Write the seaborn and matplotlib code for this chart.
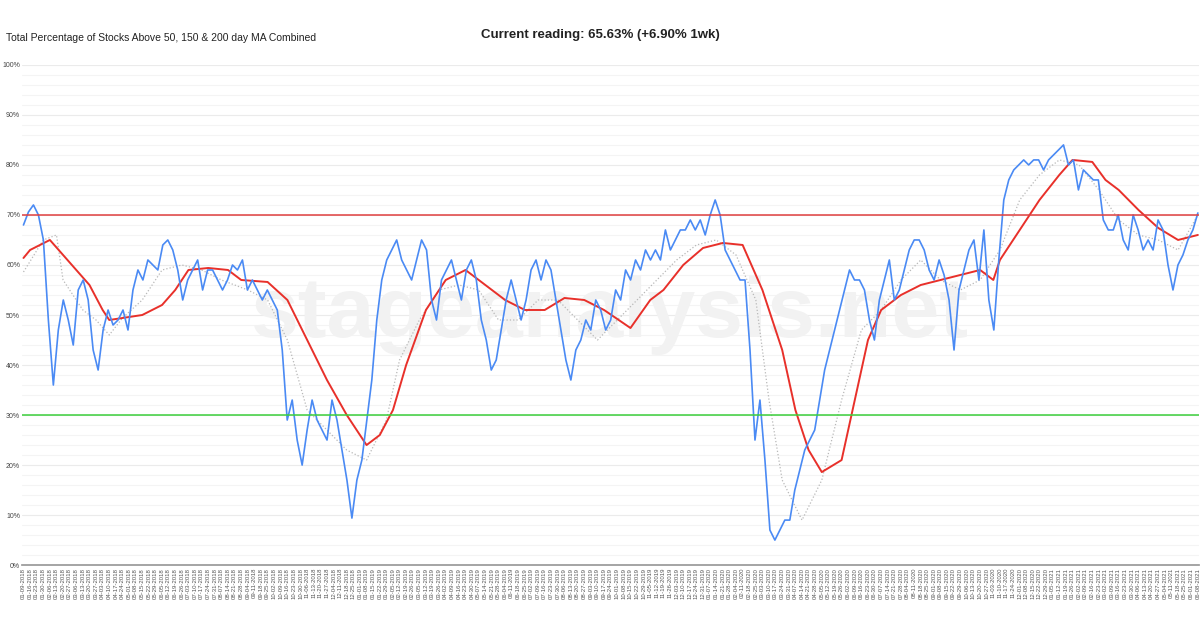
import numpy as np
import pandas as pd
import matplotlib
matplotlib.use("Agg")
import matplotlib.pyplot as plt
import seaborn as sns

blue_vals = [68,70.6,72,70,65,49,36,47,53,49,44,55,57,53,43,39,47,51,48,49,51,47,55,59,57,61,60,59,64,65,63,59,53,57,59,61,55,59,59,57,55,57,60,59,61,55,57,55,53,55,53,51,43,29,33,25,20,27,33,29,27,25,33,29,23,17,9.4,17,21,29,37,49,57,61,63,65,61,59,57,61,65,63,53,49,57,59,61,57,53,59,61,57,49,45,39,41,47,53,57,53,49,53,59,61,57,61,59,53,47,41,37,43,45,49,47,53,51,47,49,55,53,59,57,61,59,63,61,63,61,67,63,65,67,67,69,67,69,66,70,73,70,63,61,59,57,57,43,25,33,21,7,5,7,9,9,15,19,23,25,27,33,39,43,47,51,55,59,57,57,55,49,45,53,57,61,53,55,59,63,65,65,63,59,57,61,58,53,43,55,59,63,65,57,67,53,47,61,73,77,79,80,81,80,81,81,79,81,82,83,84,80,81,75,79,78,77,77,69,67,67,70,65,63,70,67,63,65,63,69,67,60,55,60,62,65,67,70.4]
red_weeks = [0,1,4,6,8,10,12,13,15,18,21,23,25,28,31,33,37,40,43,46,49,52,54,56,58,61,64,67,70,73,76,79,82,85,88,92,95,97,100,103,106,109,112,115,117,119,121,124,126,128,130,133,136,139,142,145,147,148,151,154,157,159,162,164,166,169,172,175,178]
red_vals = [61.4,63,65,62,59,56,51,49,49.4,50,52,55,59,59.4,59,57,56.6,53,45,37,30,24,26,31,40,51,57,59,56,53,51,51,53.4,53,51,47.4,53,55,60,63.4,64.4,64,55,43,31,23,18.6,21,33,45,51,54,56,57,58,59,57,61,67,73,78,81,80.6,77,75,71,67.4,65,66]
gray_weeks = [0,3,5,6,9,11,13,15,18,21,24,27,30,34,37,40,43,46,49,52,55,57,60,63,66,69,72,75,78,81,84,87,90,93,96,99,102,105,108,111,113,115,118,121,124,127,130,133,136,139,142,145,148,151,154,157,160,163,166,169,172,175,178]
gray_vals = [58.6,65,66,57,51,49,46,49.4,53,59,60,59,57,55,53,45,31,27,23,21,29,41,49,55,56,55,49,49,53,53,49,45,49,53,57,61,64,65,62,53,33,17,9,17,33,47,51,57,61,57,55,57,63,73,78,81,80,75,69,66,65,63,70]

start = pd.Timestamp("2018-01-09")
tick_dates = pd.date_range(start, periods=179, freq="7D")
tick_labels = [d.strftime("%m-%d-%Y") for d in tick_dates]

def to_dates(weeks):
    return [start + pd.Timedelta(days=7 * w) for w in weeks]

blue_weeks = np.linspace(0, 178, len(blue_vals))
df_b = pd.DataFrame({"d": to_dates(blue_weeks), "v": blue_vals})
df_r = pd.DataFrame({"d": to_dates(red_weeks), "v": red_vals})
df_g = pd.DataFrame({"d": to_dates(gray_weeks), "v": gray_vals})

sns.set_theme(style="white")
plt.rcParams['font.family'] = ['Liberation Sans', 'DejaVu Sans']
fig = plt.figure(figsize=(12, 6.3), dpi=100)
ax = fig.add_axes([0.018, 0.103, 0.981, 0.794])

for y in np.arange(0, 101, 2):
    ax.axhline(y, color="#ebebeb" if y % 10 == 0 else "#f4f4f4", lw=0.8, zorder=0)

ax.text(0.5, 0.5, "stageanalysis.net", transform=ax.transAxes, fontsize=62,
        fontweight="bold", color="#f2f2f2", ha="center", va="center", zorder=0.5)

sns.lineplot(data=df_g, x="d", y="v", ax=ax, color="#b8b8b8", lw=0.9, linestyle=":")
sns.lineplot(data=df_r, x="d", y="v", ax=ax, color="#e8302a", lw=1.4)
sns.lineplot(data=df_b, x="d", y="v", ax=ax, color="#4a8af4", lw=1.2)
ax.axhline(70, color="#e04040", lw=1.1)
ax.axhline(30, color="#3ccf3c", lw=1.1)

ax.set_ylim(0, 100)
ax.set_xlim(start - pd.Timedelta(days=2), tick_dates[-1] + pd.Timedelta(days=1))
ax.set_yticks(np.arange(0, 101, 10))
ax.set_yticklabels([f"{v}%" for v in range(0, 101, 10)], fontsize=5, color="#444")
ax.tick_params(axis="y", pad=1, length=0)
ax.set_xticks(tick_dates)
ax.set_xticklabels(tick_labels, rotation=90, fontsize=4.3, color="#555")
ax.tick_params(axis="x", length=0, pad=2)
ax.set_xlabel("")
ax.set_ylabel("")
for s in ["top", "right", "left"]:
    ax.spines[s].set_visible(False)
ax.spines["bottom"].set_color("#999")

fig.text(0.005, 0.94, "Total Percentage of Stocks Above 50, 150 & 200 day MA Combined",
         fontsize=7.5, color="#222", va="center")
fig.text(0.5, 0.945, "Current reading: 65.63% (+6.90% 1wk)", fontsize=9.5,
         fontweight="bold", color="#222", ha="center", va="center")

fig.savefig("out.png", dpi=100)
